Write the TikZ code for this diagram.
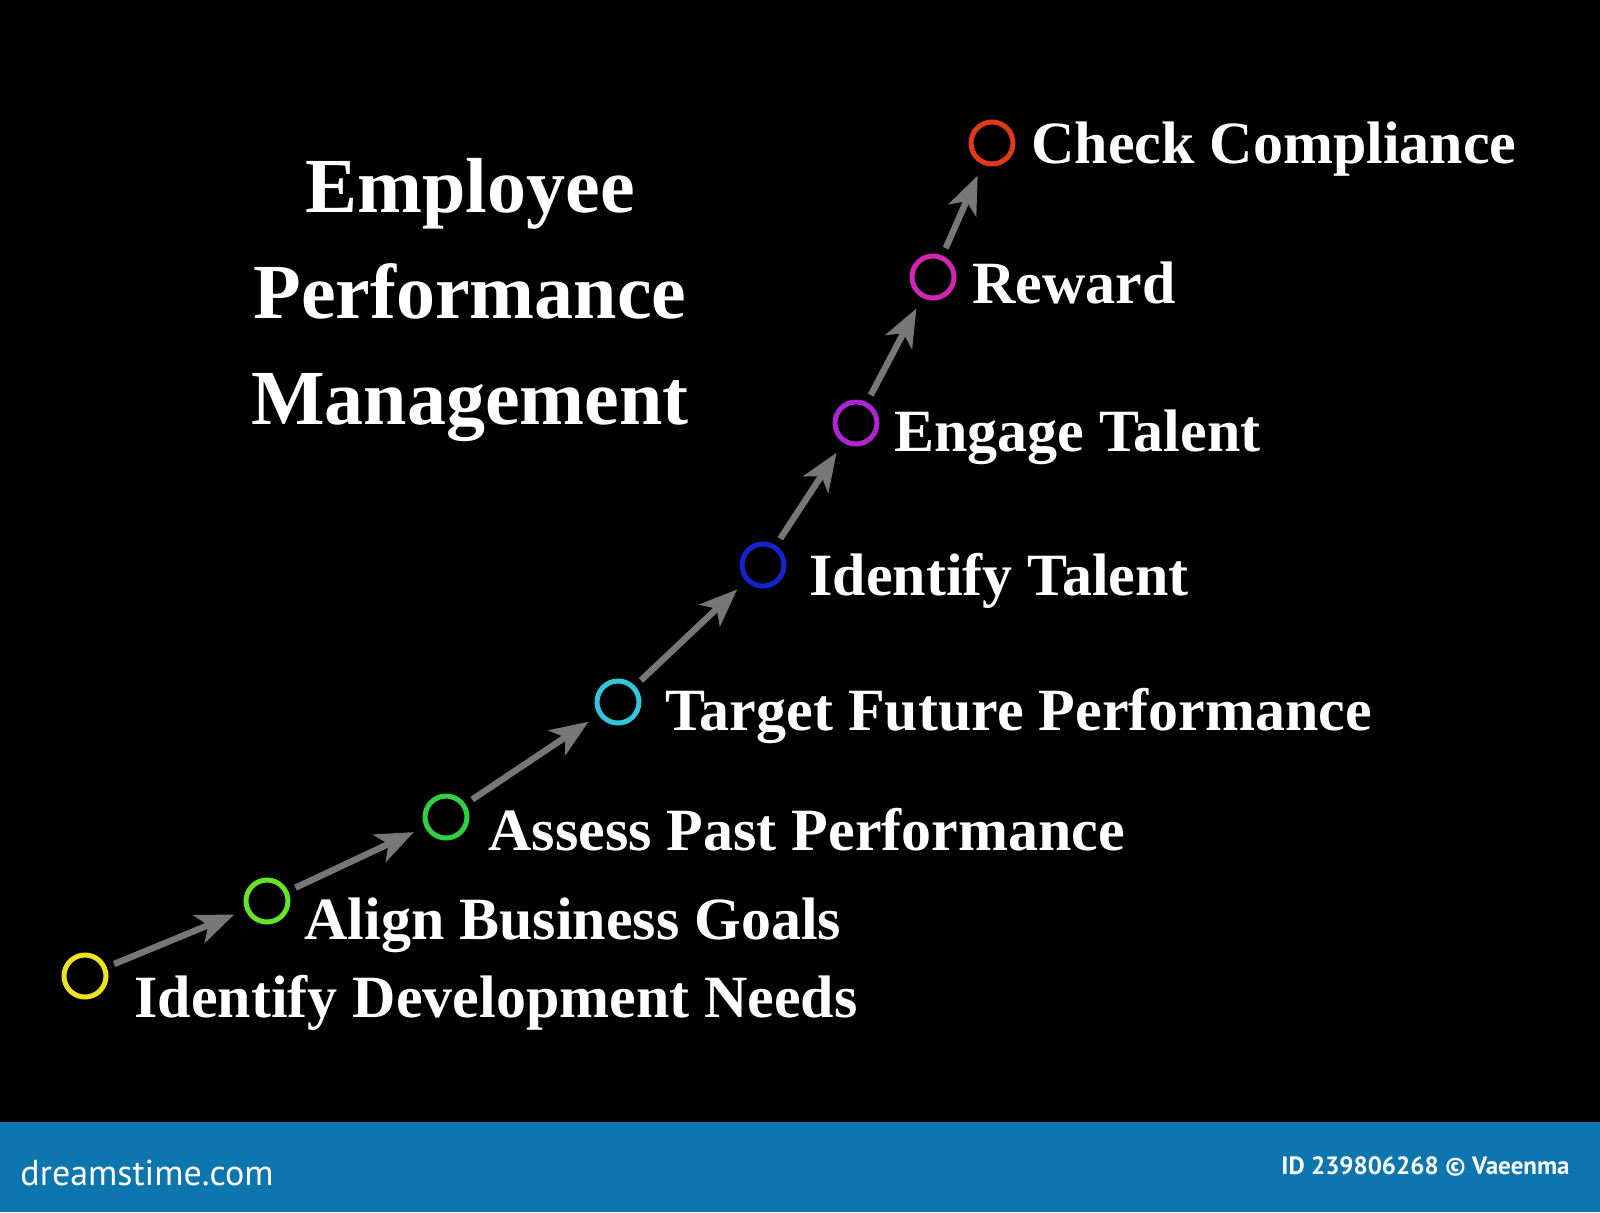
\documentclass[tikz,border=0pt]{standalone}
\usepackage{fontspec}
\setmainfont{Liberation Serif}
\newfontfamily\barfont{PT Sans}
\usetikzlibrary{positioning,arrows.meta}
\definecolor{stepyellow}{HTML}{EDE121}
\definecolor{stepgreenyellow}{HTML}{66E22A}
\definecolor{stepgreen}{HTML}{2FD043}
\definecolor{stepcyan}{HTML}{33C6D9}
\definecolor{stepblue}{HTML}{1423CC}
\definecolor{steppurple}{HTML}{B024D2}
\definecolor{stepmagenta}{HTML}{D424B4}
\definecolor{stepred}{HTML}{E2391B}
\definecolor{arrowgray}{HTML}{777777}
\definecolor{barblue}{HTML}{0E76AE}

\begin{document}
\begin{tikzpicture}[
    x=0.5pt, y=-0.5pt,
 stage/.style = {
        draw, circle, line width=2.5pt,
        minimum size=21pt, inner sep=0pt},
 steplabel/.style = {
        anchor=base west, text=white, inner sep=0pt,
        font=\fontsize{30}{36}\selectfont\bfseries},
 heading/.style = {
        align=center, text=white, inner sep=0pt,
        font=\fontsize{39}{53}\selectfont\bfseries},
 arrow/.style = {draw=arrowgray, line width=3.2pt,
        -{Stealth[length=19pt,width=15pt,inset=5pt]},
        shorten <=4pt, shorten >=6pt}
                    ]
\useasboundingbox (0,0) rectangle (1600,1212);
% background and credit bar
\fill[black] (0,0) rectangle (1600,1212);
\fill[barblue] (0,1122) rectangle (1600,1212);

% the title (base = last line)
\node (title) [heading, anchor=base] at (470,424)
    {Employee\\Performance\\Management};

% the stages, bottom to top
\node (needs)  [stage, draw=stepyellow]      at (85,976)  {};
\node (goals)  [stage, draw=stepgreenyellow] at (267,901) {};
\node (past)   [stage, draw=stepgreen]       at (446,817) {};
\node (future) [stage, draw=stepcyan]        at (618,702) {};
\node (talent) [stage, draw=stepblue]        at (763,565) {};
\node (engage) [stage, draw=steppurple]      at (856,423) {};
\node (reward) [stage, draw=stepmagenta]     at (933,277) {};
\node (comply) [stage, draw=stepred]         at (992,143) {};

% the labels
\node (needsL)  [steplabel] at (134,1017) {Identify Development Needs};
\node (goalsL)  [steplabel] at (304,939)  {Align Business Goals};
\node (pastL)   [steplabel] at (488,850)  {Assess Past Performance};
\node (futureL) [steplabel] at (665,730)  {Target Future Performance};
\node (talentL) [steplabel] at (809,595)  {Identify Talent};
\node (engageL) [steplabel] at (894,451)  {Engage Talent};
\node (rewardL) [steplabel] at (972,303)  {Reward};
\node (complyL) [steplabel] at (1031,163) {Check Compliance};

% arrows between the stages
\foreach \a/\b in {needs/goals, goals/past, past/future, future/talent,
                   talent/engage, engage/reward, reward/comply}
    \draw[arrow] (\a) -- (\b);

% credit bar texts
\node (site)   [anchor=west, text=white, inner sep=0pt,
                font=\barfont\fontsize{18}{20}\selectfont] at (20,1173) {dreamstime.com};
\node (credit) [anchor=east, text=white, inner sep=0pt,
                font=\barfont\bfseries\fontsize{12.5}{14}\selectfont] at (1570,1166) {ID 239806268 © Vaeenma};
\end{tikzpicture}
\end{document}
